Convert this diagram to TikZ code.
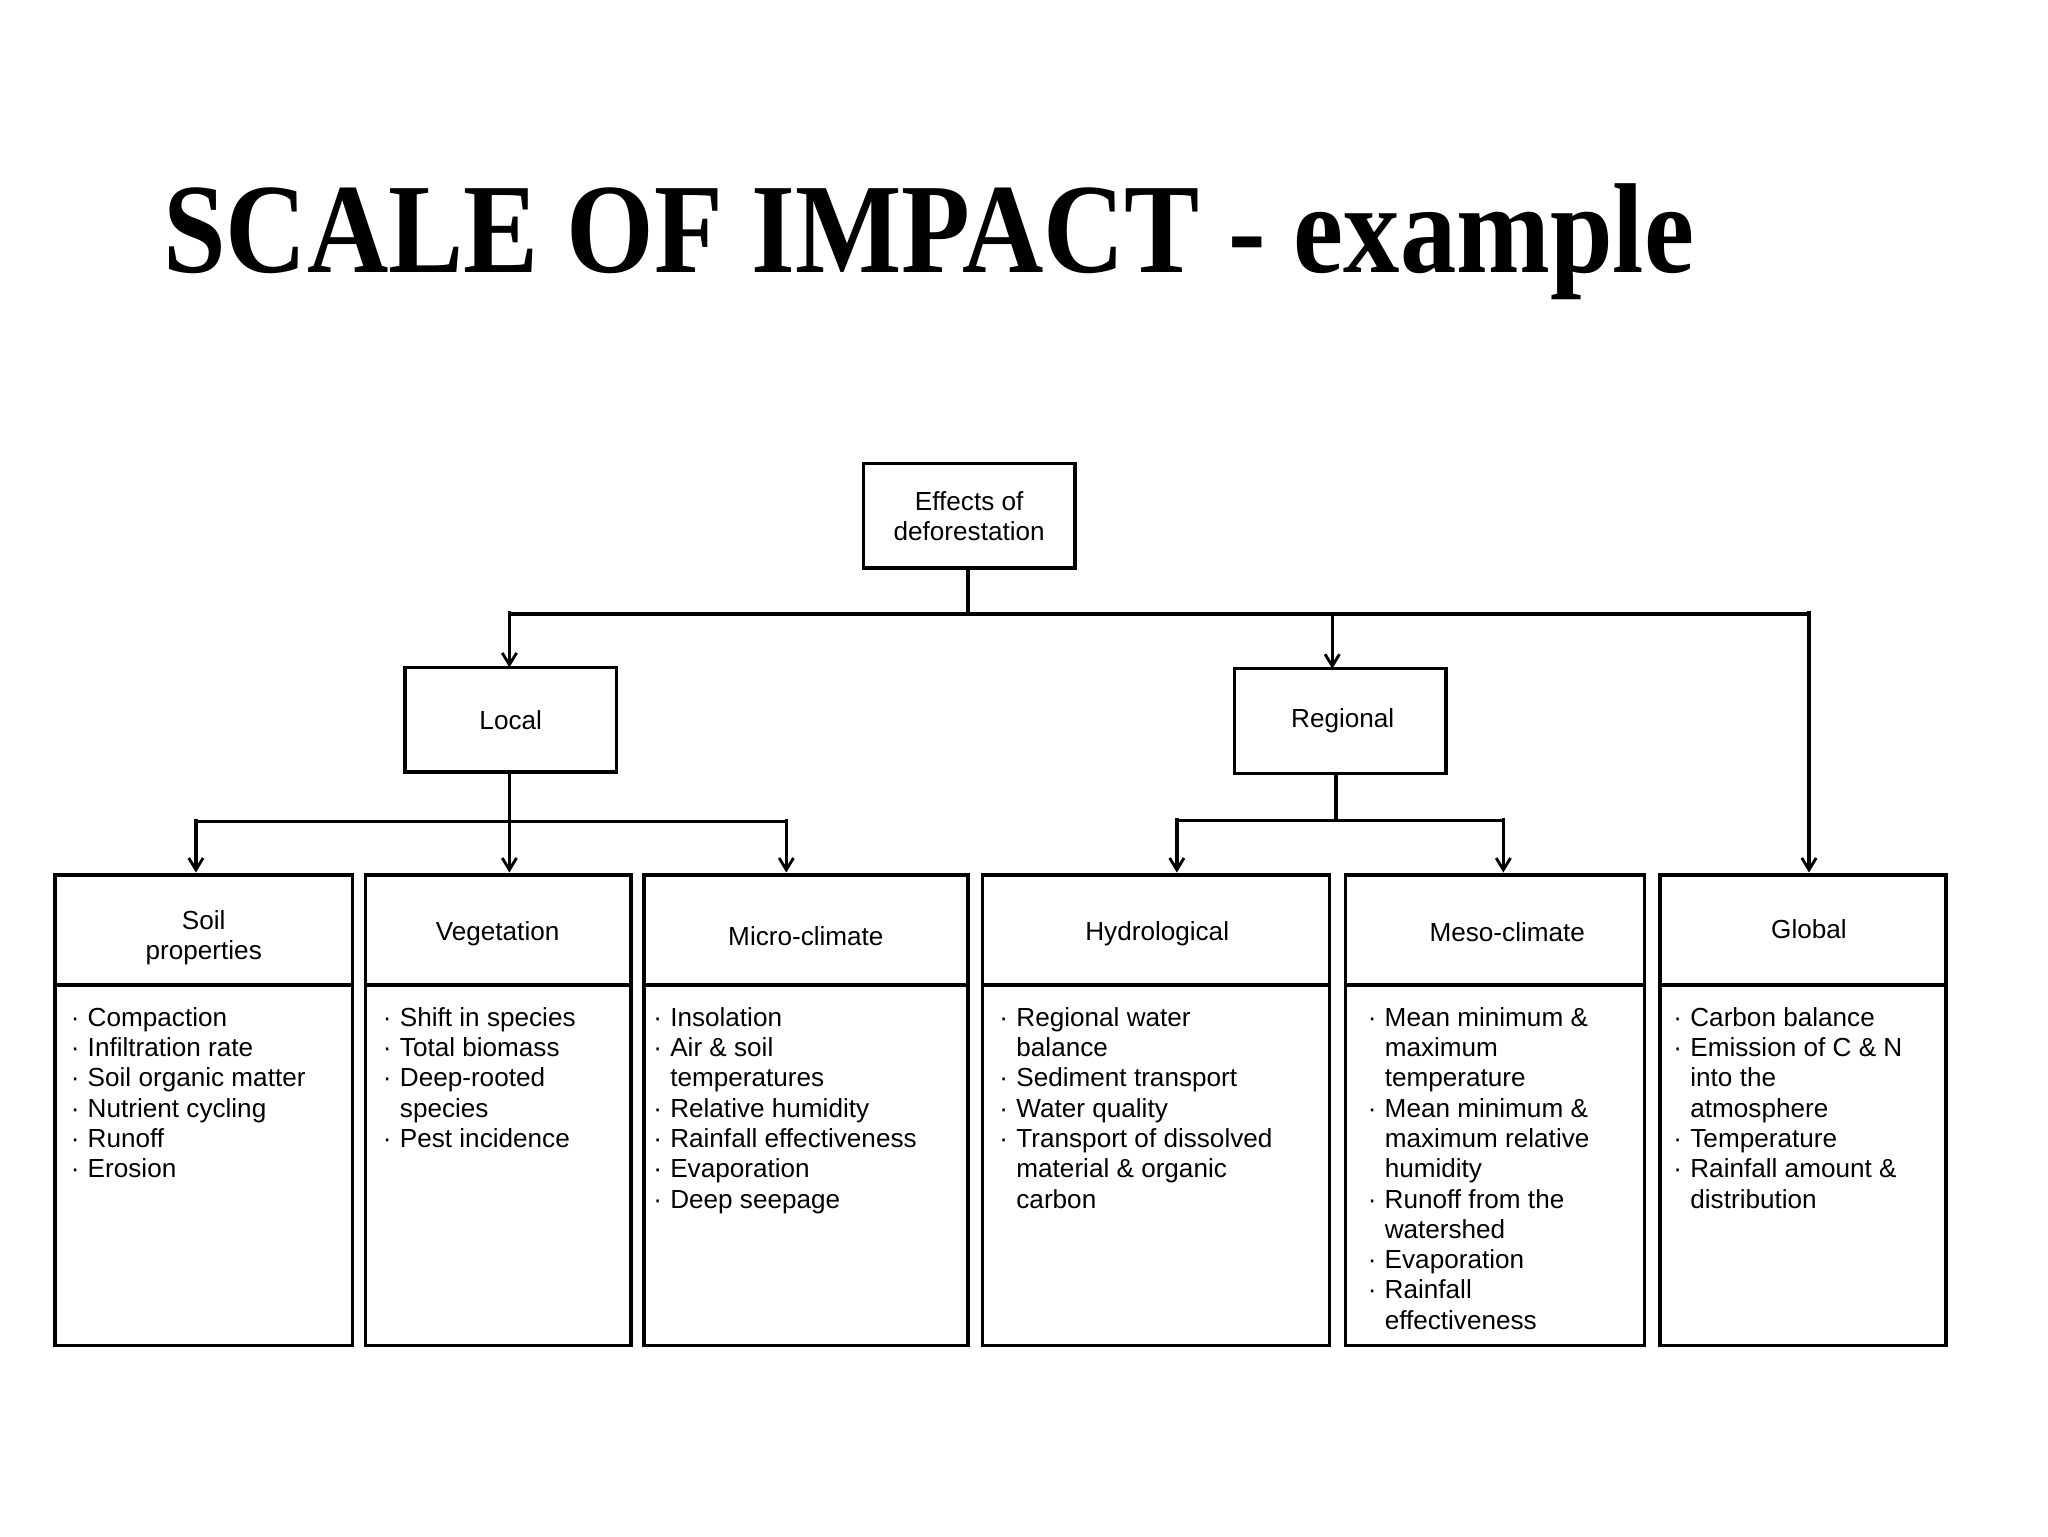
\documentclass[tikz,border=0pt]{standalone}
\usepackage{fontspec}
\setmainfont{Liberation Sans}
\newfontfamily\titlefont{Liberation Serif}
\usetikzlibrary{arrows.meta}
\newcommand{\bu}{\makebox[13pt][l]{\textperiodcentered}}
\newcommand{\ci}{\hspace*{13pt}}
\begin{document}
\begin{tikzpicture}[x=1pt,y=-1pt,
  bx/.style={draw,line width=2.6pt},
  ln/.style={line width=2.6pt},
  ar/.style={line width=2.6pt,-{Straight Barb[length=9pt,width=11pt,line width=2.2pt]}},
  lab/.style={font=\fontsize{20}{23.2}\selectfont,align=center},
  lst/.style={font=\fontsize{20}{23.2}\selectfont,align=left,anchor=north west,inner sep=0pt}]
\useasboundingbox (0,0) rectangle (1568,1176);
\node[anchor=base,inner sep=0pt] (title) at (711,209) {\resizebox{1172pt}{68pt}{\titlefont\bfseries SCALE OF IMPACT - example}};
% top
\draw[bx] (661,355) rectangle (823,435);
\node[lab] (eff) at (742,395) {Effects of\\deforestation};
\coordinate (t1) at (741,435); \coordinate (t2) at (741,470);
\coordinate (lL) at (390,470); \coordinate (lR) at (1385,470);
\draw[ln] (t1)--(t2);
\draw[ln] (lL)--(lR);
\draw[bx] (310,511) rectangle (472,591); \node[lab] (loc) at (391,551) {Local};
\draw[bx] (945,512) rectangle (1107,592); \node[lab] (reg) at (1028,552) {Regional};
\draw[ar] (390,468)--(390,511);
\draw[ar] (1020,470)--(1020,512);
\draw[ar] (1385,468)--(1385,668);
% local branches
\draw[ln] (390,591)--(390,629);
\draw[ln] (150,629)--(602,629);
\draw[ar] (150,627)--(150,668);
\draw[ar] (390,629)--(390,668);
\draw[ar] (602,627)--(602,668);
% regional
\draw[ln] (1023,592)--(1023,628);
\draw[ln] (901,628)--(1151,628);
\draw[ar] (901,626)--(901,668);
\draw[ar] (1151,626)--(1151,668);
% bottom boxes
\foreach \a/\b in {42/270,280/483,493/741,752/1018,1030/1259,1271/1490}{
  \draw[bx] (\a,670) rectangle (\b,1030);
  \draw[ln] (\a,754)--(\b,754);}
\node[lab] (h1) at (156,718) {Soil\\properties};
\node[lab] (h2) at (381,715) {Vegetation};
\node[lab] (h3) at (617,717) {Micro-climate};
\node[lab] (h4) at (886,715) {Hydrological};
\node[lab] (h5) at (1154,714) {Meso-climate};
\node[lab] (h6) at (1385,711) {Global};
\node[lst] (b1) at (54,771) {\bu Compaction\\\bu Infiltration rate\\\bu Soil organic matter\\\bu Nutrient cycling\\\bu Runoff\\\bu Erosion};
\node[lst] (b2) at (293,771) {\bu Shift in species\\\bu Total biomass\\\bu Deep-rooted\\\ci species\\\bu Pest incidence};
\node[lst] (b3) at (500,771) {\bu Insolation\\\bu Air \& soil\\\ci temperatures\\\bu Relative humidity\\\bu Rainfall effectiveness\\\bu Evaporation\\\bu Deep seepage};
\node[lst] (b4) at (765,771) {\bu Regional water\\\ci balance\\\bu Sediment transport\\\bu Water quality\\\bu Transport of dissolved\\\ci material \& organic\\\ci carbon};
\node[lst] (b5) at (1047,771) {\bu Mean minimum \&\\\ci maximum\\\ci temperature\\\bu Mean minimum \&\\\ci maximum relative\\\ci humidity\\\bu Runoff from the\\\ci watershed\\\bu Evaporation\\\bu Rainfall\\\ci effectiveness};
\node[lst] (b6) at (1281,771) {\bu Carbon balance\\\bu Emission of C \& N\\\ci into the\\\ci atmosphere\\\bu Temperature\\\bu Rainfall amount \&\\\ci distribution};
\end{tikzpicture}
\end{document}
